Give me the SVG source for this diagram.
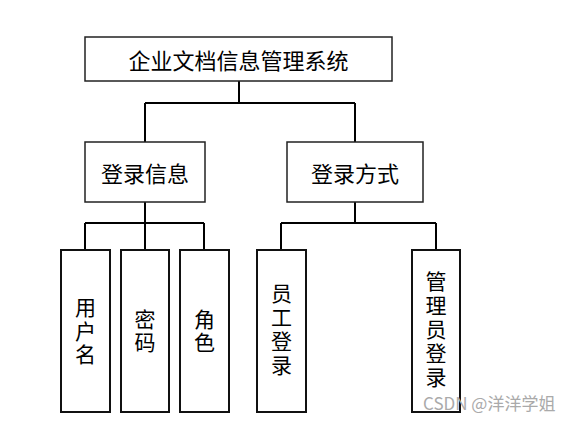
<svg xmlns="http://www.w3.org/2000/svg" width="574" height="422" viewBox="0 0 574 422">
<style>
.box{fill:#fff;stroke:#222;stroke-width:1.5}
.leaf{fill:#fff;stroke:#111;stroke-width:2}
.t{font-family:"Noto Sans CJK SC","Noto Sans",sans-serif;font-size:22px;fill:#000;text-anchor:middle;dominant-baseline:central}
.v{font-family:"Noto Sans CJK SC","Noto Sans",sans-serif;font-size:21px;fill:#000;text-anchor:middle;writing-mode:vertical-rl;letter-spacing:2.5px}
.c{fill:none;stroke:#000;stroke-width:2}
</style>
<rect width="574" height="422" fill="#fff"/>
<g id="connectors">
<path class="c" d="M239 81V103M145 103H355M145 103V142M355 103V142"/>
<path class="c" d="M145 202V223M85 223H204M85 223V250M145 223V250M204 223V250"/>
<path class="c" d="M355 202V223M281 223H436M281 223V250M436 223V250"/>
</g>
<g id="root"><rect class="box" x="85" y="37" width="307" height="44"/><text class="t" x="238.5" y="58.5">企业文档信息管理系统</text></g>
<g id="login-info"><rect class="box" x="85" y="142" width="120" height="60"/><text class="t" x="145" y="172">登录信息</text></g>
<g id="login-mode"><rect class="box" x="287" y="142" width="136" height="60"/><text class="t" x="355" y="172">登录方式</text></g>
<g id="username"><rect class="leaf" x="61" y="250" width="49" height="162"/><text class="v" x="85.5" y="332">用户名</text></g>
<g id="password"><rect class="leaf" x="121" y="250" width="48" height="162"/><text class="v" x="145" y="332">密码</text></g>
<g id="role"><rect class="leaf" x="180" y="250" width="49" height="162"/><text class="v" x="204.5" y="332">角色</text></g>
<g id="staff-login"><rect class="leaf" x="257" y="250" width="49" height="162"/><text class="v" x="281.5" y="331" style="letter-spacing:3px">员工登录</text></g>
<g id="admin-login"><rect class="leaf" x="412" y="250" width="48" height="162"/><text class="v" x="436" y="331" style="letter-spacing:3px">管理员登录</text></g>
<text x="423" y="410" font-family="'Noto Sans CJK SC','Noto Sans',sans-serif" font-size="17" fill="#aaa">CSDN @洋洋学姐</text>
</svg>
